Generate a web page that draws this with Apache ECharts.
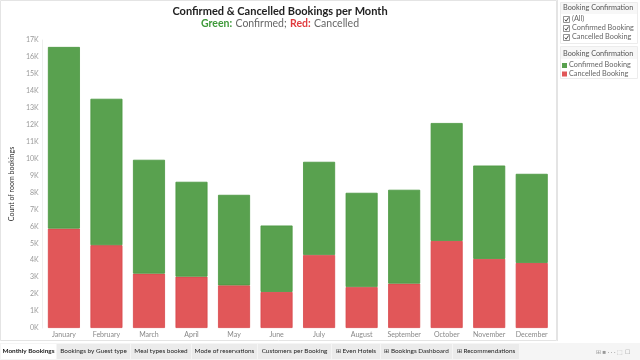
<!DOCTYPE html>
<html>
<head>
<meta charset="utf-8">
<script src="https://cdn.jsdelivr.net/npm/echarts@6/dist/echarts.min.js"></script>
<style>
html,body{margin:0;padding:0;background:#fff;}
#c{width:640px;height:360px;}
</style>
</head>
<body>
<div id="c"></div>
<script>
var months = ['January','February','March','April','May','June','July','August','September','October','November','December'];
var cancelled = [5870, 4890, 3210, 3030, 2520, 2130, 4310, 2420, 2620, 5140, 4080, 3840];
var confirmed = [10720, 8640, 6720, 5600, 5340, 3920, 5500, 5560, 5540, 6960, 5510, 5260];
var yTickMax = 17000;
var yTickStep = 1000;
var tabs = ['Monthly Bookings','Bookings by Guest type','Meal types booked','Mode of reservations','Customers per Booking','\u229e Even Hotels','\u229e Bookings Dashboard','\u229e Recommendations'];
var filterItems = ['(All)','Confirmed Booking','Cancelled Booking'];
var legendItems = ['Confirmed Booking','Cancelled Booking'];

var FONT = 'Lato';
var GREEN = '#59a14f', RED = '#e15759';

var chart = echarts.init(document.getElementById('c'), null, {renderer:'canvas'});

var graphics = [];
graphics.push({type:'rect', shape:{x:0.5,y:0.5,width:556,height:340}, style:{fill:'none',stroke:'#e4e4e4',lineWidth:1}, silent:true});
graphics.push({type:'text', x:280, y:6, style:{text:'Confirmed & Cancelled Bookings per Month', font:'bold 11px '+FONT, fill:'#222', align:'center'}});
graphics.push({type:'text', x:280, y:18, style:{
  text:'{g|Green:} {n|Confirmed;} {r|Red:} {n|Cancelled}', align:'center',
  rich:{g:{fill:'#3f9a3a',font:'bold 10.5px '+FONT}, r:{fill:'#e03b3e',font:'bold 10.5px '+FONT}, n:{fill:'#666',font:'10.5px '+FONT}}
}});
graphics.push({type:'line', shape:{x1:557.5,y1:0,x2:557.5,y2:341}, style:{stroke:'#e4e4e4',lineWidth:1}});
// filter box
graphics.push({type:'rect', shape:{x:560.5,y:2.5,width:77,height:41}, style:{fill:'#fff',stroke:'#ececec'}});
graphics.push({type:'rect', shape:{x:561,y:3,width:76,height:11}, style:{fill:'#f7f7f7'}});
graphics.push({type:'text', x:563, y:4, style:{text:'Booking Confirmation', font:'7.3px '+FONT, fill:'#555'}});
filterItems.forEach(function(t,i){
  var y = 16 + i*9;
  graphics.push({type:'rect', shape:{x:563.5,y:y+0.5,width:6,height:6}, style:{fill:'#fff',stroke:'#777',lineWidth:0.8}});
  graphics.push({type:'polyline', shape:{points:[[564.8,y+3.6],[566.2,y+5.2],[568.5,y+1.6]]}, style:{stroke:'#333',lineWidth:0.9,fill:'none'}});
  graphics.push({type:'text', x:572, y:y-0.5, style:{text:t, font:'7.3px '+FONT, fill:'#666'}});
});
// legend box
graphics.push({type:'rect', shape:{x:560.5,y:46.5,width:77,height:32}, style:{fill:'#fff',stroke:'#ececec'}});
graphics.push({type:'rect', shape:{x:561,y:47,width:76,height:12}, style:{fill:'#f7f7f7'}});
graphics.push({type:'text', x:563, y:50, style:{text:'Booking Confirmation', font:'7.3px '+FONT, fill:'#555'}});
legendItems.forEach(function(t,i){
  var y = 62 + i*8.5;
  graphics.push({type:'rect', shape:{x:562,y:y+1,width:5,height:5}, style:{fill: i===0?GREEN:RED}});
  graphics.push({type:'text', x:569, y:y-0.5, style:{text:t, font:'7.3px '+FONT, fill:'#666'}});
});
// tab bar
graphics.push({type:'rect', shape:{x:0,y:343,width:640,height:17}, style:{fill:'#f5f5f5'}});
var tabX = [1, 57, 131, 192, 258, 332, 381, 453];
var tabW = [55, 73, 60, 65, 73, 48, 71, 66];
tabs.forEach(function(t,i){
  graphics.push({type:'rect', shape:{x:tabX[i],y:344,width:tabW[i],height:15}, style:{fill: i===0?'#fff':'#ebebeb'}});
  graphics.push({type:'text', x:tabX[i]+tabW[i]/2, y:348, style:{text:t, align:'center', font:(i===0?'bold ':'')+'6.4px '+FONT, fill:'#222'}});
});
graphics.push({type:'text', x:596, y:349, style:{text:'\u229e \u25a0 \u00b7 \u00b7 \u00b7 \u2b1a \u2610', font:'6px '+FONT, fill:'#999'}});

chart.setOption({
  animation:false,
  backgroundColor:'#fff',
  textStyle:{fontFamily:FONT},
  grid:{left:40, right:87, top:40, bottom:32},
  xAxis:{
    type:'category', data:months,
    axisLine:{show:false}, axisTick:{show:false},
    axisLabel:{color:'#888', fontSize:7, margin:3, interval:0, fontFamily:FONT}
  },
  yAxis:{
    type:'value', min:0, max:yTickMax, interval:yTickStep,
    name:'Count of room bookings', nameLocation:'middle', nameRotate:90, nameGap:26,
    nameTextStyle:{color:'#333', fontSize:7, fontFamily:FONT},
    axisLine:{show:true, lineStyle:{color:'#eeeeee'}}, axisTick:{show:false},
    splitLine:{show:false},
    axisLabel:{color:'#999', fontSize:7, margin:4, fontFamily:FONT, formatter:function(v){return (v/1000)+'K';}}
  },
  series:[
    {name:'Cancelled Booking', type:'bar', stack:'all', data:cancelled, barWidth:32,
     itemStyle:{color:RED, borderColor:'#d8464a', borderWidth:0.8}},
    {name:'Confirmed Booking', type:'bar', stack:'all', data:confirmed, barWidth:32,
     itemStyle:{color:GREEN, borderColor:'#4a9740', borderWidth:0.8}}
  ],
  graphic:graphics
});
</script>
</body>
</html>
